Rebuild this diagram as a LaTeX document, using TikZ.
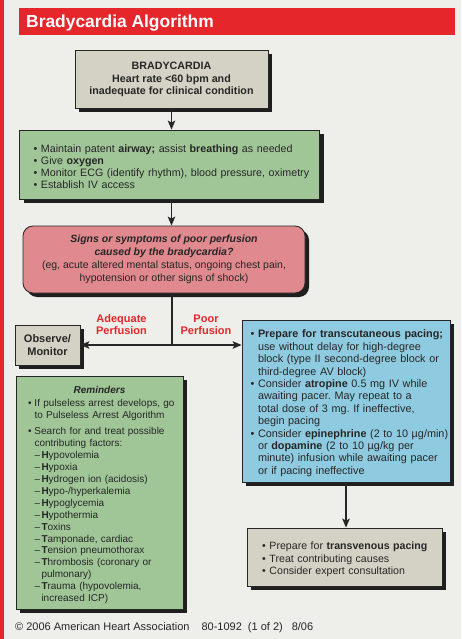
\documentclass[tikz,border=0pt]{standalone}
\usepackage{fontspec}
\setmainfont{Liberation Sans}
\usetikzlibrary{shadows,arrows.meta}
\definecolor{pagebg}{HTML}{EEEEEB}
\definecolor{ahared}{HTML}{E5262B}
\definecolor{boxgrey}{HTML}{D4D2C4}
\definecolor{boxgreen}{HTML}{A0C698}
\definecolor{boxpink}{HTML}{E0898E}
\definecolor{boxblue}{HTML}{8FCBE0}
\definecolor{ink}{HTML}{262626}
\frenchspacing
\newcommand\bl[1]{\par\hbox{\hbox to 7.5pt{\textbullet\hfil}#1}}
\newcommand\cl[1]{\par\hbox{\hspace*{7.5pt}#1}}
\newcommand\rbl[1]{\par\hbox{\hbox to 6.5pt{\textbullet\hfil}#1}}
\newcommand\rcl[1]{\par\hbox{\hspace*{6.5pt}#1}}
\newcommand\dl[1]{\par\hbox{\hspace*{6.5pt}\hbox to 7pt{–\hfil}#1}}
\newcommand\el[1]{\par\hbox{\hspace*{13.5pt}#1}}
\newcommand\fs[2]{\fontsize{#1}{#2}\selectfont}
\begin{document}
\begin{tikzpicture}[x=1pt,y=-1pt,
  box/.style={draw=ink, line width=0.8pt, text=ink, inner ysep=0pt,
    drop shadow={shadow xshift=4pt, shadow yshift=-4pt, fill=black!88, opacity=1}},
  conn/.style={draw=ink, line width=1.3pt},
  arr/.style={conn, -{Stealth[length=9pt,width=7.5pt,inset=2pt]}},
  lbl/.style={text=ahared, font=\fs{11}{12}\bfseries, align=center, inner sep=0pt}
]
\useasboundingbox (0,0) rectangle (461,639);
\fill[pagebg] (0,0) rectangle (461,639);
\fill[ahared] (0,0) rectangle (4,639);
\fill[ahared] (19,8) rectangle (455,35);
\node[anchor=base west, text=white, font=\fs{17.4}{20}\bfseries, inner sep=0pt] (title) at (26,27.5) {Bradycardia Algorithm};

\node[box, fill=boxgrey, minimum width=193pt, minimum height=58pt, align=center,
  font=\fs{10.7}{12.5}\bfseries] (brady) at (171.5,79.5)
  {BRADYCARDIA\\Heart rate <60 bpm and\\inadequate for clinical condition};

\node[box, fill=boxgreen, minimum height=69pt, inner xsep=14pt, text width=272pt,
  font=\fs{10.7}{11.8}] (care) at (169.5,164.5)
  {\bl{Maintain patent \textbf{airway;} assist \textbf{breathing} as needed}%
   \bl{Give \textbf{oxygen}}%
   \bl{Monitor ECG (identify rhythm), blood pressure, oximetry}%
   \bl{Establish IV access}};

\node[box, fill=boxpink, rounded corners=10pt, minimum width=282pt, minimum height=67pt,
  align=center, font=\fs{10.5}{13}] (sign) at (164,259.5)
  {\textbf{\textit{Signs or symptoms of poor perfusion}}\\
   \textbf{\textit{caused by the bradycardia?}}\\
   (eg, acute altered mental status, ongoing chest pain,\\
   hypotension or other signs of shock)};

\node[box, fill=boxgrey, minimum width=65pt, minimum height=40pt, align=center,
  font=\fs{11}{13}\bfseries] (obs) at (47.5,345) {Observe/\\Monitor};

\node[box, fill=boxblue, minimum height=162pt, inner xsep=8.5pt, text width=191pt,
  font=\fs{10.85}{12.4}] (pace) at (346,401)
  {\bl{\textbf{Prepare for transcutaneous pacing;}}%
   \cl{use without delay for high-degree}%
   \cl{block (type II second-degree block or}%
   \cl{third-degree AV block)}%
   \bl{Consider \textbf{atropine} 0.5 mg IV while}%
   \cl{awaiting pacer. May repeat to a}%
   \cl{total dose of 3 mg. If ineffective,}%
   \cl{begin pacing}%
   \bl{Consider \textbf{epinephrine} (2 to 10 µg/min)}%
   \cl{or \textbf{dopamine} (2 to 10 µg/kg per}%
   \cl{minute) infusion while awaiting pacer}%
   \cl{or if pacing ineffective}};

\node[box, fill=boxgreen, minimum height=233pt, inner xsep=12pt, text width=143pt,
  font=\fs{10}{11.9}] (remind) at (99.5,492.5)
  {\par\hbox to \hsize{\hfil\textbf{\textit{Reminders}}\hfil}%
   \vskip1pt
   \rbl{If pulseless arrest develops, go}%
   \rcl{to Pulseless Arrest Algorithm}%
   \vskip5pt
   \rbl{Search for and treat possible}%
   \rcl{contributing factors:}%
   \dl{\textbf{H}ypovolemia}%
   \dl{\textbf{H}ypoxia}%
   \dl{\textbf{H}ydrogen ion (acidosis)}%
   \dl{\textbf{H}ypo-/hyperkalemia}%
   \dl{\textbf{H}ypoglycemia}%
   \dl{\textbf{H}ypothermia}%
   \dl{\textbf{T}oxins}%
   \dl{\textbf{T}amponade, cardiac}%
   \dl{\textbf{T}ension pneumothorax}%
   \dl{\textbf{T}hrombosis (coronary or}%
   \el{pulmonary)}%
   \dl{\textbf{T}rauma (hypovolemia,}%
   \el{increased ICP)}};

\node[box, fill=boxgrey, minimum height=58pt, inner xsep=15pt, text width=165pt,
  font=\fs{10.6}{12.3}] (final) at (344.5,557)
  {\bl{Prepare for \textbf{transvenous pacing}}%
   \bl{Treat contributing causes}%
   \bl{Consider expert consultation}};

\node[lbl] (adeq) at (121.5,325) {Adequate\\Perfusion};
\node[lbl] (poor) at (206,325) {Poor\\Perfusion};

\coordinate (j) at (172,345);
\draw[arr] (brady.south) -- (brady.south |- care.north);
\draw[arr] (brady.south |- care.south) -- (brady.south |- sign.north);
\draw[conn] (sign.south -| j) -- (j);
\draw[arr] (j) -- (obs.east);
\draw[arr] (j) -- (j -| pace.west);
\draw[arr] (pace.south) -- (pace.south |- final.north);

\node[anchor=base west, inner sep=0pt, text=ink, font=\fs{11}{12}] (foot) at (15,630)
  {©~2006 American Heart Association\hspace{12pt}80-1092\hspace{6pt}(1 of 2)\hspace{9pt}8/06};
\end{tikzpicture}
\end{document}
